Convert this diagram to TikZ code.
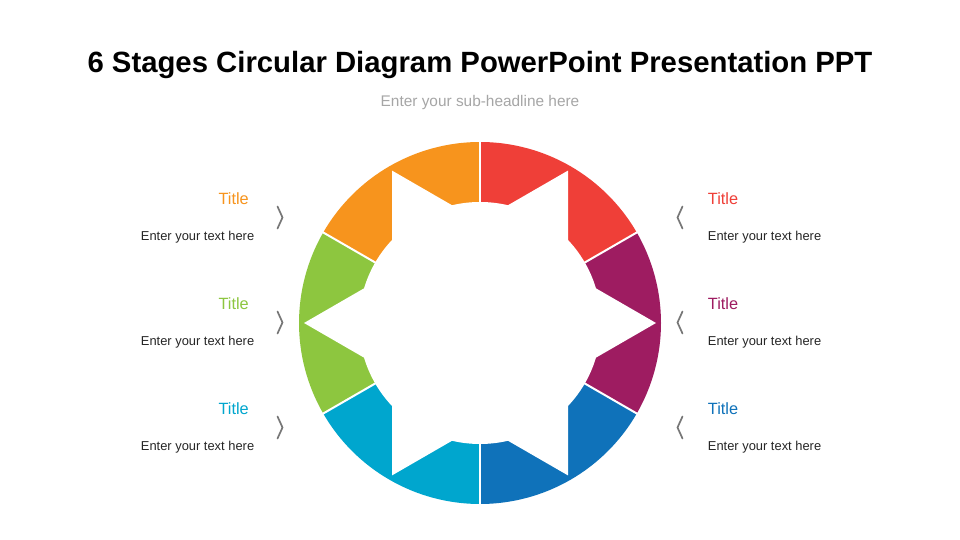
\documentclass[tikz,border=0pt]{standalone}
\usepackage{fontspec}
\setmainfont{Liberation Sans}
\definecolor{corange}{HTML}{F7941D}
\definecolor{cred}{HTML}{EF3F38}
\definecolor{cpurple}{HTML}{9E1C61}
\definecolor{cblue}{HTML}{0F72BA}
\definecolor{ccyan}{HTML}{00A6CE}
\definecolor{cgreen}{HTML}{8DC63F}
\definecolor{subgray}{HTML}{A6A6A6}
\definecolor{bodytext}{HTML}{262626}
\definecolor{chevgray}{HTML}{777777}
\tikzset{
  lbl/.style={inner sep=0pt, font=\fontsize{16.3}{19}\selectfont},
  body/.style={inner sep=0pt, text=bodytext, font=\fontsize{12.9}{15}\selectfont},
  chev/.style={draw=chevgray, line width=1.7pt, line cap=round, line join=round},
  sep/.style={draw=white, line width=2pt}
}
\begin{document}
\begin{tikzpicture}[x=1pt,y=1pt]
\useasboundingbox (0,0) rectangle (960,540);
\fill[white] (0,0) rectangle (960,540);
% wheel
\begin{scope}[shift={(480,217)}]
  \foreach \a/\b/\c in {90/150/corange,30/90/cred,-30/30/cpurple,-90/-30/cblue,-150/-90/ccyan,150/210/cgreen}
    \fill[\c] (0,0) -- (\a:181) arc[start angle=\a,end angle=\b,radius=181] -- cycle;
  \fill[white] (0,0) circle (121);
  \fill[white] (0:176) -- (120:176) -- (240:176) -- cycle;
  \fill[white] (60:176) -- (180:176) -- (300:176) -- cycle;
  \foreach \a in {30,90,150,210,270,330}
    \draw[sep] (\a:115) -- (\a:184);
\end{scope}
% headings
\node[inner sep=0pt, anchor=base, font=\bfseries\fontsize{29.3}{34}\selectfont] (title) at (480,467.7) {6 Stages Circular Diagram PowerPoint Presentation PPT};
\node[inner sep=0pt, anchor=base, text=subgray, font=\fontsize{15.4}{18}\selectfont] (sub) at (480,433.7) {Enter your sub-headline here};
% left labels
\node[lbl, anchor=base east, text=corange] (l1) at (249,335) {Title};
\node[body, anchor=base west] (lt1) at (140.7,299.3) {Enter your text here};
\node[lbl, anchor=base east, text=cgreen] (l2) at (249,230) {Title};
\node[body, anchor=base west] (lt2) at (140.7,194.3) {Enter your text here};
\node[lbl, anchor=base east, text=ccyan] (l3) at (249,125) {Title};
\node[body, anchor=base west] (lt3) at (140.7,89.3) {Enter your text here};
% right labels
\node[lbl, anchor=base west, text=cred] (r1) at (707.7,335) {Title};
\node[body, anchor=base west] (rt1) at (707.7,299.3) {Enter your text here};
\node[lbl, anchor=base west, text=cpurple] (r2) at (707.7,230) {Title};
\node[body, anchor=base west] (rt2) at (707.7,194.3) {Enter your text here};
\node[lbl, anchor=base west, text=cblue] (r3) at (707.7,125) {Title};
\node[body, anchor=base west] (rt3) at (707.7,89.3) {Enter your text here};
% chevrons
\foreach \y in {322.5,217.5,112.5} {
  \draw[chev] (277.5,\y+11) -- (282.5,\y) -- (277.5,\y-11);
  \draw[chev] (682.5,\y+11) -- (677.5,\y) -- (682.5,\y-11);
}
\end{tikzpicture}
\end{document}
